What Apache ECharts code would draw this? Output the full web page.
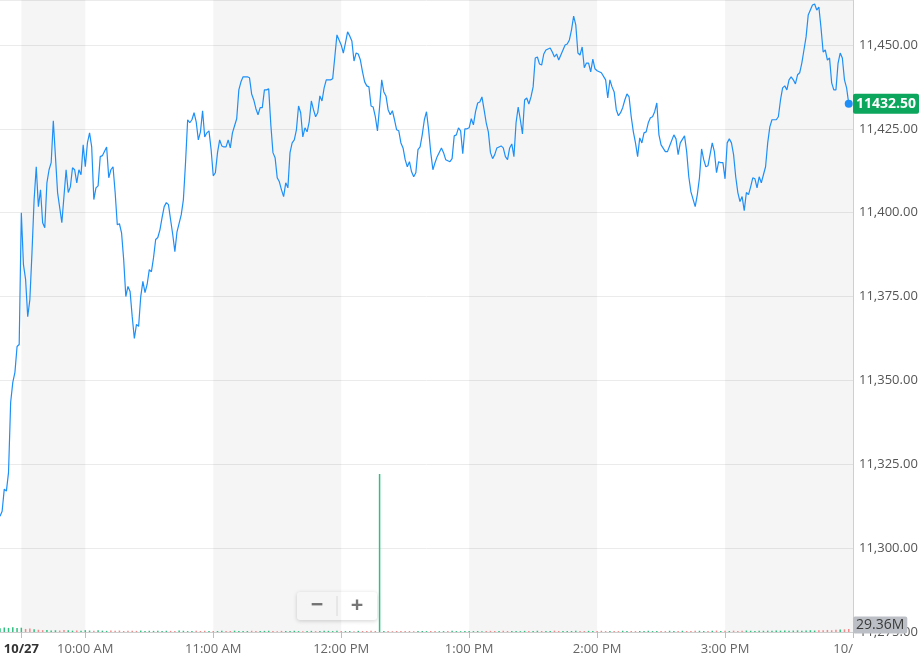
<!DOCTYPE html>
<html>
<head>
<meta charset="utf-8">
<script src="https://cdn.jsdelivr.net/npm/echarts@6/dist/echarts.min.js"></script>
<style>
html,body{margin:0;padding:0;background:#fff}
#chart{width:921px;height:658px}
</style>
</head>
<body>
<div id="chart"></div>
<script>
// [minutes after midnight, price] for 10/27
var pricePoints = [
[560,11309.5],[561,11311.0],[562,11317.6],[563,11317.0],[564,11322.6],[565,11343.5],[566,11349.4],[567,11352.4],[568,11360.1],[569,11360.7],
[570,11400.0],[571,11384.5],[572,11380.1],[573,11369.0],[574,11374.1],[575,11388.1],[576,11403.9],[577,11413.7],[578,11401.8],[579,11406.8],
[580,11397.0],[581,11395.5],[582,11408.9],[583,11412.8],[584,11414.9],[585,11427.4],[586,11416.7],[587,11406.0],[589,11397.0],[591,11412.8],
[592,11406.0],[593,11407.7],[594,11413.4],[595,11412.8],[596,11408.9],[597,11412.8],[598,11411.3],[599,11420.2],[600,11413.7],[601,11420.8],
[602,11423.8],[603,11419.6],[604,11403.9],[605,11407.4],[606,11408.0],[607,11416.7],[608,11417.0],[610,11419.6],[611,11410.4],[612,11412.8],
[613,11413.7],[614,11406.0],[615,11396.4],[616,11396.7],[617,11394.0],[618,11386.0],[619,11375.0],[620,11378.0],[621,11376.5],[622,11369.0],
[623,11362.5],[624,11366.7],[625,11366.1],[626,11375.0],[627,11379.5],[628,11376.2],[629,11378.6],[630,11383.0],[631,11382.4],[632,11386.6],
[633,11392.0],[634,11392.6],[635,11394.9],[636,11398.5],[637,11401.8],[638,11403.0],[639,11402.4],[640,11397.9],[641,11393.5],[642,11388.4],
[643,11394.3],[645,11399.4],[646,11403.9],[647,11414.9],[648,11427.7],[649,11426.8],[650,11427.7],[651,11429.8],[652,11427.1],[653,11421.7],
[654,11424.1],[655,11430.4],[656,11422.6],[657,11423.8],[658,11424.4],[659,11418.8],[660,11411.0],[661,11411.9],[662,11417.9],[663,11421.7],
[664,11419.9],[665,11419.6],[666,11419.6],[667,11421.7],[668,11419.3],[669,11423.8],[670,11425.9],[671,11428.0],[672,11436.6],[673,11439.0],
[674,11440.5],[676,11440.5],[677,11440.2],[678,11435.4],[679,11433.6],[680,11431.0],[681,11429.2],[682,11431.3],[683,11431.3],[684,11436.6],
[685,11436.6],[686,11436.9],[687,11426.2],[688,11417.9],[689,11416.4],[690,11410.4],[691,11409.2],[692,11406.8],[693,11404.8],[694,11408.9],
[695,11407.4],[696,11417.9],[697,11420.8],[698,11421.7],[699,11424.7],[700,11431.8],[701,11429.8],[702,11422.6],[703,11425.3],[704,11424.1],
[705,11427.1],[706,11433.3],[707,11430.7],[708,11428.6],[709,11429.8],[710,11434.8],[711,11433.3],[712,11437.2],[713,11439.6],[715,11439.6],
[716,11439.9],[717,11446.4],[718,11453.0],[719,11451.5],[720,11450.0],[721,11447.6],[722,11450.6],[723,11453.9],[724,11452.7],[725,11451.2],
[726,11445.2],[727,11447.6],[728,11447.3],[729,11445.5],[730,11442.0],[731,11439.0],[732,11437.8],[733,11437.5],[734,11431.8],[735,11431.5],
[736,11428.6],[737,11424.4],[738,11431.5],[739,11439.6],[740,11436.0],[741,11434.8],[742,11430.7],[743,11429.2],[744,11430.4],[745,11427.7],
[746,11424.7],[747,11424.4],[748,11420.8],[749,11419.3],[750,11415.8],[751,11413.7],[752,11415.2],[753,11412.2],[754,11410.7],[755,11411.9],
[756,11418.8],[757,11419.6],[758,11423.2],[759,11427.7],[760,11430.1],[761,11424.7],[762,11417.9],[763,11412.8],[764,11414.9],[765,11416.7],
[767,11419.3],[768,11417.9],[769,11415.8],[770,11415.5],[771,11415.2],[772,11416.1],[773,11422.9],[774,11423.2],[775,11425.3],[776,11424.4],
[777,11417.6],[778,11425.0],[779,11425.0],[780,11425.3],[781,11428.0],[782,11426.2],[783,11430.1],[784,11432.7],[785,11433.0],[786,11434.5],
[787,11430.7],[788,11426.8],[789,11424.1],[790,11417.9],[791,11416.1],[792,11417.3],[793,11419.3],[794,11419.6],[795,11419.9],[796,11419.3],
[797,11416.7],[798,11415.8],[799,11419.3],[800,11420.5],[801,11416.7],[802,11426.8],[803,11431.5],[804,11427.7],[805,11423.5],[806,11433.6],
[807,11434.2],[808,11432.4],[809,11434.5],[810,11437.5],[811,11446.1],[812,11446.4],[813,11444.3],[814,11444.0],[815,11447.3],[816,11448.5],
[818,11449.1],[819,11447.9],[820,11446.4],[821,11447.3],[822,11445.5],[824,11448.5],[825,11450.0],[826,11450.3],[827,11451.5],[828,11454.5],
[829,11458.6],[830,11456.0],[831,11447.6],[832,11447.0],[833,11449.4],[834,11443.2],[835,11444.6],[836,11444.6],[837,11442.0],[838,11445.8],
[839,11442.9],[840,11442.3],[842,11441.7],[844,11439.6],[845,11434.2],[846,11439.6],[847,11437.5],[848,11436.0],[849,11430.7],[850,11428.9],
[851,11429.8],[852,11431.3],[853,11433.6],[854,11435.4],[855,11434.5],[856,11428.6],[857,11424.1],[858,11420.8],[859,11416.7],[860,11422.3],
[861,11420.8],[862,11423.8],[863,11424.1],[864,11426.8],[865,11428.3],[866,11428.6],[867,11430.1],[868,11432.7],[869,11423.2],[870,11420.2],
[872,11418.2],[873,11418.2],[874,11419.9],[876,11423.2],[877,11422.0],[878,11417.3],[879,11420.8],[881,11422.9],[882,11418.2],[883,11410.7],
[884,11406.2],[886,11401.8],[887,11405.4],[888,11410.4],[889,11419.0],[890,11415.8],[891,11413.7],[892,11414.0],[894,11420.8],[895,11418.2],
[896,11411.9],[897,11415.2],[898,11414.9],[899,11414.9],[900,11410.1],[901,11420.8],[902,11422.0],[903,11420.8],[904,11417.3],[905,11410.7],
[906,11406.0],[907,11403.3],[908,11404.8],[909,11400.6],[910,11406.0],[911,11405.4],[912,11407.7],[913,11410.4],[914,11410.1],[915,11407.4],
[916,11410.7],[917,11408.9],[918,11411.3],[919,11413.7],[920,11420.8],[921,11425.6],[922,11427.7],[924,11427.7],[925,11428.6],[926,11433.6],
[927,11437.2],[928,11437.8],[929,11436.6],[930,11439.6],[931,11440.5],[932,11439.6],[933,11438.4],[934,11441.1],[935,11441.7],[936,11444.6],
[937,11448.5],[938,11452.4],[939,11458.9],[941,11461.9],[942,11462.2],[943,11460.4],[944,11461.3],[945,11455.1],[946,11447.9],[947,11448.5],
[948,11445.5],[949,11446.1],[950,11438.7],[951,11436.6],[952,11436.6],[953,11444.6],[954,11447.6],[955,11446.1],[956,11439.6],[957,11437.2],
[958,11432.5]
];

// volume (millions), one bar every 2 minutes from 9:20
var volStart = 560;
var volumes = [
36,44,40,47,38,42,30,34,27,22,18,20,15,17,14,19,16,13,15,12,
18,14,12,16,13,11,15,12,14,10,13,12,11,14,10,12,11,13,9,12,
11,10,14,12,9,11,13,10,12,9,11,10,12,9,10,13,11,9,10,12,
10,9,11,12,10,8,11,9,10,12,9,8,10,11,9,10,12,11,9,12,
11,9,10,8,11,10,9,12,10,1546,9,11,8,10,9,11,10,8,9,10,
9,11,10,8,9,10,12,9,8,10,11,9,10,8,9,11,10,9,12,10,
9,10,8,11,9,10,12,10,9,11,13,10,9,11,10,12,9,10,11,9,
10,12,9,11,10,9,12,11,10,9,11,10,12,9,10,11,9,12,10,11,
12,10,11,13,12,10,11,12,14,11,12,10,13,11,12,14,12,11,13,12,
13,12,14,13,15,12,14,16,13,15,17,14,16,18,20,17,22,24,26,29.36
];

var tickTimes = [570, 600, 660, 720, 780, 840, 900, 960];
var tickLabels = ['10/27', '10:00 AM', '11:00 AM', '12:00 PM', '1:00 PM', '2:00 PM', '3:00 PM', '10/'];
var shadedHours = [[570, 600], [660, 720], [780, 840], [900, 960]];

var lastPrice = pricePoints[pricePoints.length - 1][1];
var lastVolume = volumes[volumes.length - 1];

function priceAt(t) {
  var p = pricePoints[0][1];
  for (var i = 0; i < pricePoints.length; i++) {
    if (pricePoints[i][0] <= t) p = pricePoints[i][1]; else break;
  }
  return p;
}

var lineData = pricePoints.map(function (p, i) {
  if (i === pricePoints.length - 1) {
    return { value: p, symbol: 'circle', symbolSize: 8 };
  }
  return p;
});

var volData = volumes.map(function (v, i) {
  var t = volStart + i * 2;
  var up = priceAt(t) >= priceAt(t - 2);
  return { value: [t, v], itemStyle: { color: up ? '#2fc07f' : '#f08a8a' } };
});

var font = '"Open Sans", "Noto Sans", sans-serif';

var chart = echarts.init(document.getElementById('chart'), null, { renderer: 'canvas' });
chart.setOption({
  animation: false,
  backgroundColor: '#fff',
  grid: { left: 0, right: 68, top: 0, bottom: 26 },
  xAxis: {
    type: 'value',
    min: 560,
    max: 960,
    axisLine: { show: true, lineStyle: { color: '#cfcfcf' } },
    axisTick: { show: true, customValues: tickTimes, length: 6, lineStyle: { color: '#bdbdbd' } },
    axisLabel: {
      customValues: tickTimes,
      margin: 11,
      color: '#666',
      fontSize: 13,
      fontFamily: font,
      alignMaxLabel: 'right',
      formatter: function (v) {
        var i = tickTimes.indexOf(v);
        if (i === 0) return '{b|' + tickLabels[0] + '}';
        return i >= 0 ? tickLabels[i] : '';
      },
      rich: { b: { fontWeight: 'bold', color: '#333', fontSize: 13, fontFamily: font } }
    },
    splitLine: { show: false }
  },
  yAxis: [{
    type: 'value',
    position: 'right',
    min: 11275,
    max: 11463.4,
    interval: 25,
    axisLine: { show: true, lineStyle: { color: '#cfcfcf' } },
    axisTick: { show: false },
    splitLine: { show: true, lineStyle: { color: '#ebebeb' } },
    axisLabel: {
      showMaxLabel: false,
      margin: 6,
      color: '#555',
      fontSize: 13,
      fontFamily: font,
      formatter: function (v) {
        return v.toLocaleString('en-US', { minimumFractionDigits: 2, maximumFractionDigits: 2 });
      }
    }
  }, {
    type: 'value',
    min: 0,
    max: 6185,
    show: false
  }],
  series: [{
    type: 'line',
    data: lineData,
    symbol: 'none',
    showSymbol: true,
    itemStyle: { color: '#1e8ff7' },
    lineStyle: { color: '#1e8ff7', width: 1.2 },
    emphasis: { disabled: true },
    z: 3,
    markArea: {
      silent: true,
      itemStyle: { color: 'rgba(0,0,0,0.04)' },
      data: shadedHours.map(function (h) { return [{ xAxis: h[0] }, { xAxis: h[1] }]; })
    },
    markLine: {
      silent: true,
      symbol: 'none',
      lineStyle: { color: 'rgba(0,0,0,0)', width: 0, opacity: 1 },
      label: {
        show: true,
        opacity: 1,
        position: 'end',
        distance: 0,
        formatter: lastPrice.toFixed(2),
        backgroundColor: '#0ca75d',
        color: '#fff',
        fontWeight: 'bold',
        fontSize: 14,
        fontFamily: font,
        padding: [3, 3, 3, 3],
        borderRadius: 2
      },
      data: [{ yAxis: lastPrice }]
    }
  }, {
    type: 'bar',
    yAxisIndex: 1,
    data: volData,
    barWidth: 1.5,
    emphasis: { disabled: true },
    z: 2,
    markLine: {
      silent: true,
      symbol: 'none',
      lineStyle: { color: 'rgba(0,0,0,0)', width: 0, opacity: 1 },
      label: {
        show: true,
        opacity: 1,
        position: 'end',
        distance: 0,
        offset: [0, -4],
        formatter: lastVolume.toFixed(2) + 'M',
        backgroundColor: '#bcc0c6',
        color: '#3a3a3a',
        fontSize: 14,
        fontFamily: font,
        padding: [2, 3, 1, 3],
        borderRadius: 2
      },
      data: [{ yAxis: lastVolume }]
    }
  }],
  graphic: [{
    type: 'group',
    left: 297,
    top: 592,
    children: [
      { type: 'rect', shape: { x: 0, y: 0, width: 80, height: 28, r: 3 },
        style: { fill: '#fff', shadowBlur: 4, shadowOffsetY: 1, shadowColor: 'rgba(0,0,0,0.18)' } },
      { type: 'line', shape: { x1: 40, y1: 4, x2: 40, y2: 24 }, style: { stroke: '#e2e2e2', lineWidth: 1 } },
      { type: 'text', x: 20, y: 14,
        style: { text: '\u2212', fill: '#777', font: 'bold 22px ' + font, align: 'center', verticalAlign: 'middle' } },
      { type: 'text', x: 60, y: 14,
        style: { text: '+', fill: '#777', font: 'bold 22px ' + font, align: 'center', verticalAlign: 'middle' } }
    ]
  }]
});
</script>
</body>
</html>
